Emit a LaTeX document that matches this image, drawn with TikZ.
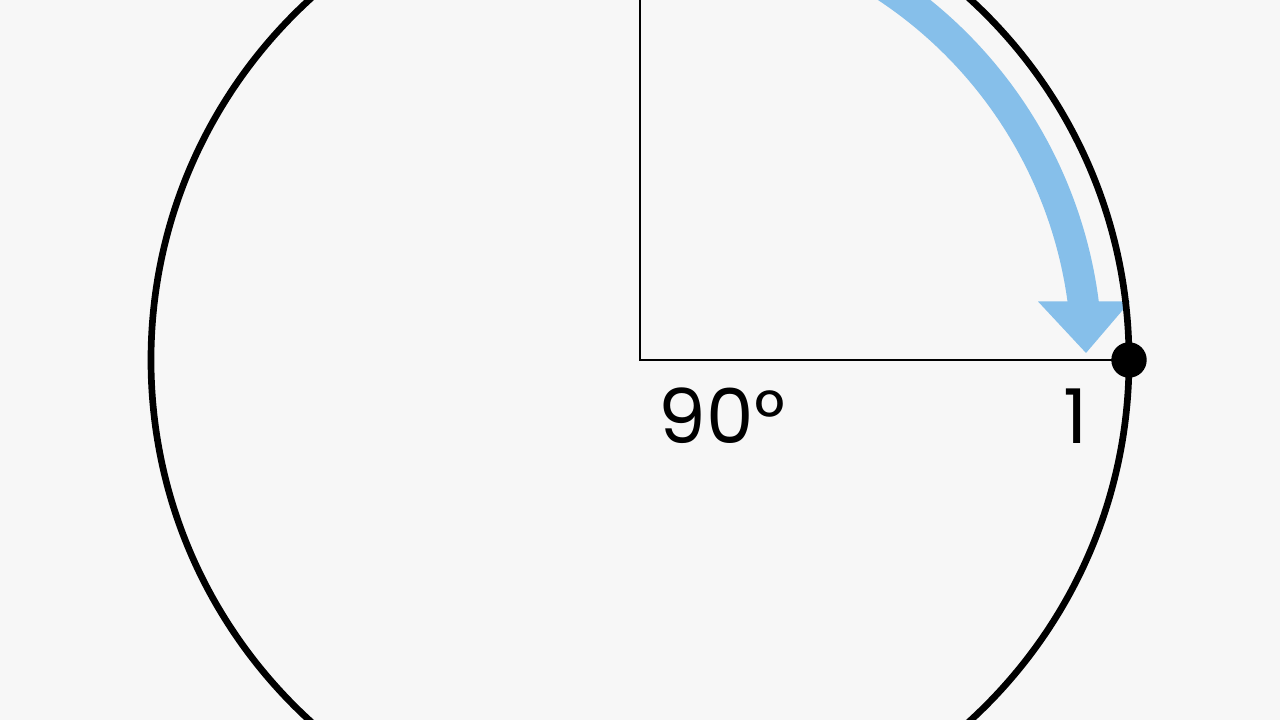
\documentclass[tikz,border=0pt]{standalone}
\usepackage{fontspec}
\setmainfont{Poppins}
\usetikzlibrary{calc}
\definecolor{bg}{HTML}{F7F7F7}
\definecolor{skyblue}{HTML}{86BFEA}

\begin{document}
\begin{tikzpicture}
\fill[bg] (-6.4,-3.6) rectangle (6.4,3.6);
\useasboundingbox (-6.4,-3.6) rectangle (6.4,3.6);
\begin{scope}
\clip (-6.4,-3.6) rectangle (6.4,3.6);
\coordinate (O) at (0,0);
\coordinate (P) at (4.89,0);
\coordinate (T) at (0,3.7);
\draw[skyblue, line width=0.31cm] (60:4.47) arc (60:6.5:4.47);
\fill[skyblue] (3.98,0.585) -- (4.90,0.585) -- (4.46,0.07) -- cycle;
\draw[black, line width=1.9pt] (O) circle (4.89);
\draw[black, line width=0.6pt] (T) -- (O) -- (P);
\filldraw[black] (P) circle (0.17);
\node[font=\fontsize{21.5}{26}\selectfont] (deg) at (0.82,-0.56) {90°};
\node[font=\fontsize{21.5}{26}\selectfont] (one) at (4.36,-0.56) {1};
\end{scope}
\end{tikzpicture}
\end{document}
